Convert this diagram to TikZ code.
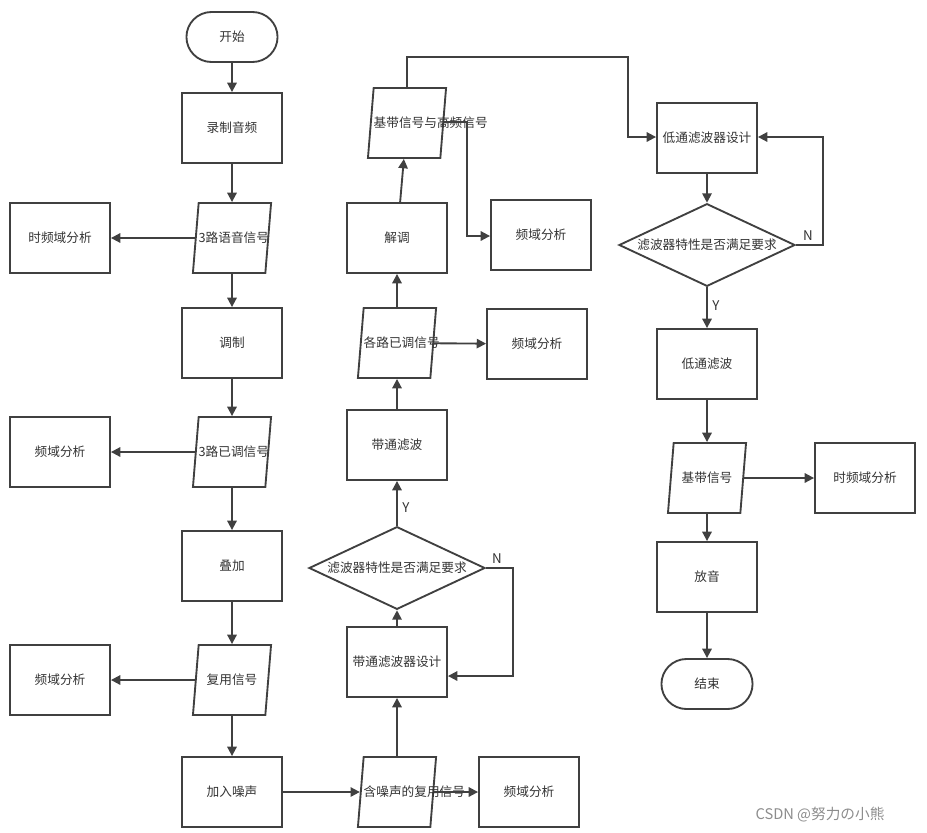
\documentclass[tikz,border=0pt]{standalone}
\usepackage{fontspec}
\setmainfont{Noto Sans CJK SC}
\usetikzlibrary{shapes.geometric,shapes.misc,arrows.meta}
\begin{document}
\begin{tikzpicture}[x=0.75pt,y=-0.75pt,
  every node/.style={font=\fontsize{9.5}{11}\selectfont,text=black!80,align=center},
  box/.style={draw=black!75,line width=1.4pt,minimum width=75pt,minimum height=52.5pt,inner sep=1pt,text width=68pt},
  term/.style={draw=black!75,line width=1.4pt,rounded rectangle,minimum width=75pt,minimum height=37.5pt},
  io/.style={draw=black!75,line width=1.4pt,trapezium,trapezium left angle=64,trapezium right angle=116,minimum width=50pt,minimum height=52.5pt,trapezium stretches=true,text width=50pt,inner sep=0pt},
  dec/.style={draw=black!75,line width=1.4pt,diamond,aspect=2.1,inner sep=0pt,minimum width=132pt,minimum height=62pt},
  ar/.style={draw=black!75,line width=1.4pt,-{Triangle[length=7pt,width=7pt]}},
  ln/.style={draw=black!75,line width=1.4pt}]
\useasboundingbox (0,0) rectangle (927,832);
% left column
\node[term] (start) at (232,37) {开始};
\node[box] (rec) at (232,128) {录制音频};
\node[io] (s3) at (232,238) {3路语音信号};
\node[box] (tf1) at (60,238) {时频域分析};
\node[box] (mod) at (232,343) {调制};
\node[io] (m3) at (232,452) {3路已调信号};
\node[box] (f1) at (60,452) {频域分析};
\node[box] (add) at (232,566) {叠加};
\node[io] (mux) at (232,680) {复用信号};
\node[box] (f2) at (60,680) {频域分析};
\node[box] (noise) at (232,792) {加入噪声};
% middle column
\node[io] (nmux) at (397,792) {含噪声的复用信号};
\node[box] (f3) at (529,792) {频域分析};
\node[box] (bpd) at (397,662) {带通滤波器设计};
\node[dec] (d1) at (397,568) {滤波器特性是否满足要求};
\node[box] (bp) at (397,445) {带通滤波};
\node[io] (each) at (397,343) {各路已调信号};
\node[box] (f4) at (537,344) {频域分析};
\node[box] (dem) at (397,238) {解调};
\node[io] (bh) at (407,123) {基带信号与高频信号};
\node[box] (f5) at (541,235) {频域分析};
% right column
\node[box] (lpd) at (707,138) {低通滤波器设计};
\node[dec] (d2) at (707,245) {滤波器特性是否满足要求};
\node[box] (lp) at (707,364) {低通滤波};
\node[io] (bb) at (707,478) {基带信号};
\node[box] (tf2) at (865,478) {时频域分析};
\node[box] (play) at (707,577) {放音};
\node[term] (end) at (707,684) {结束};
% connectors
\draw[ar] (start) -- (rec);
\draw[ar] (rec) -- (s3);
\draw[ar] (s3) -- (tf1);
\draw[ar] (s3) -- (mod);
\draw[ar] (mod) -- (m3);
\draw[ar] (m3) -- (f1);
\draw[ar] (m3) -- (add);
\draw[ar] (add) -- (mux);
\draw[ar] (mux) -- (f2);
\draw[ar] (mux) -- (noise);
\draw[ar] (noise) -- (nmux);
\draw[ar] (nmux) -- (f3);
\draw[ar] (nmux) -- (bpd);
\draw[ar] (bpd) -- (d1);
\draw[ar] (d1) -- node[right,pos=0.4,font=\fontsize{10}{12}\selectfont]{Y} (bp);
\coordinate (n1a) at (513,568); \coordinate (n1b) at (513,676);
\draw[ar] (d1.east) -- (n1a) -- (n1b) -- (bpd.east |- n1b);
\node[font=\fontsize{10}{12}\selectfont] (nl1) at (497,559) {N};
\draw[ar] (bp) -- (each);
\draw[ar] (each) -- (f4);
\draw[ar] (each) -- (dem);
\draw[ar] (dem) -- (bh);
\coordinate (b1) at (467,122); \coordinate (b2) at (467,236);
\draw[ar] (bh.east |- b1) -- (b1) -- (b2) -- (f5.west |- b2);
\coordinate (t1) at (407,57); \coordinate (t2) at (628,57); \coordinate (t3) at (628,137);
\draw[ar] (bh.north) -- (t1) -- (t2) -- (t3) -- (lpd.west |- t3);
\draw[ar] (lpd) -- (d2);
\coordinate (n2a) at (823,245); \coordinate (n2b) at (823,137);
\draw[ar] (d2.east) -- (n2a) -- (n2b) -- (lpd.east |- n2b);
\node[font=\fontsize{10}{12}\selectfont] (nl2) at (808,236) {N};
\draw[ar] (d2) -- node[right,pos=0.45,font=\fontsize{10}{12}\selectfont]{Y} (lp);
\draw[ar] (lp) -- (bb);
\draw[ar] (bb) -- (tf2);
\draw[ar] (bb) -- (play);
\draw[ar] (play) -- (end);
\node[text=black!45,font=\fontsize{11}{13}\selectfont] (wm) at (820,815) {CSDN @努力の小熊};
\end{tikzpicture}
\end{document}
